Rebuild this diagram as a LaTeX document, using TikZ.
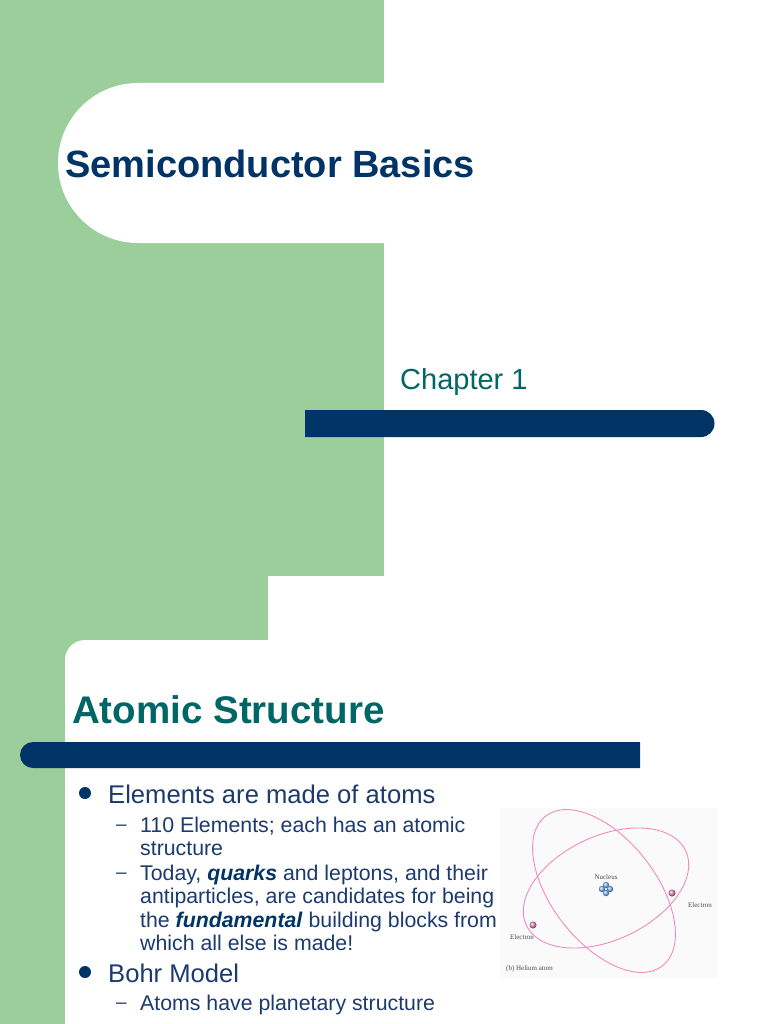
\documentclass[tikz,border=0pt]{standalone}
\usepackage{fontspec}
\setmainfont{Liberation Sans}
\newfontfamily\serifx{Liberation Serif}
\definecolor{gr}{HTML}{9CCE9C}
\definecolor{navy}{HTML}{003366}
\definecolor{teal2}{HTML}{006666}
\definecolor{txt}{HTML}{1C3A6E}
\definecolor{pinkx}{HTML}{F08CC0}
\tikzset{
 bodytext/.style={anchor=base west,inner sep=0,text=txt,font=\fontsize{21.3}{21.3}\selectfont},
 mainbul/.style={anchor=base west,inner sep=0,text=txt,font=\fontsize{25.6}{25.6}\selectfont},
 dot/.style={circle,fill=navy,inner sep=0,minimum size=12pt},
 dashx/.style={anchor=base west,inner sep=0,text=txt,font=\fontsize{19}{19}\selectfont},
 tiny/.style={inner sep=0,font=\serifx\fontsize{7}{7}\selectfont,text=black!70},
}
\begin{document}
\begin{tikzpicture}[x=1pt,y=-1pt]
\useasboundingbox (0,0) rectangle (768,1024);
\fill[white] (0,0) rectangle (768,1024);
% slide 1
\fill[gr] (0,0) rectangle (384,576);
\fill[gr] (0,576) rectangle (268,640);
\fill[white] (384,83) -- (138,83) arc[start angle=270,end angle=90,radius=80] -- (384,243) -- cycle;
\node[anchor=base west,inner sep=0,text=navy,font=\bfseries\fontsize{38}{38}\selectfont] (t1) at (65,178) {Semiconductor Basics};
\node[anchor=base west,inner sep=0,text=teal2,font=\fontsize{29}{29}\selectfont] (ch) at (400,389) {Chapter 1};
\fill[navy] (305,410) -- (701,410) arc[start angle=270,end angle=450,radius=13.5] -- (305,437) -- cycle;
% slide 2
\fill[gr] (0,640) rectangle (65,1024);
\fill[gr] (0,640) rectangle (90,665);
\fill[white] (65,1024) -- (65,660) arc[start angle=180,end angle=270,radius=20] -- (768,640) -- (768,1024) -- cycle;
\node[anchor=base west,inner sep=0,text=teal2,font=\bfseries\fontsize{38.5}{38.5}\selectfont] (t2) at (72,723) {Atomic Structure};
\fill[navy] (640,742) -- (33,742) arc[start angle=270,end angle=90,radius=13] -- (640,768) -- cycle;
\node[dot] (b1) at (85,793) {};
\node[mainbul] (l1) at (108,803) {Elements are made of atoms};
\node[dashx] (d1) at (116,830) {–};
\node[bodytext] (l2) at (140,832) {110 Elements; each has an atomic};
\node[bodytext] (l3) at (140,855) {structure};
\node[dashx] (d2) at (116,878) {–};
\node[bodytext] (l4) at (140,880) {Today, \textcolor{navy}{\textbf{\textit{quarks}}} and leptons, and their};
\node[bodytext] (l5) at (140,903) {antiparticles, are candidates for being};
\node[bodytext] (l6) at (140,927) {the \textcolor{navy}{\textbf{\textit{fundamental}}} building blocks from};
\node[bodytext] (l7) at (140,950) {which all else is made!};
\node[dot] (b2) at (85,972) {};
\node[mainbul] (l8) at (108,982) {Bohr Model};
\node[dashx] (d3) at (116,1008) {–};
\node[bodytext] (l9) at (140,1010) {Atoms have planetary structure};
% atom picture
\fill[black!2] (500,808) rectangle (718,978);
\draw[pinkx,line width=0.9pt,rotate around={-52:(604,891)}] (604,891) ellipse[x radius=95,y radius=52];
\draw[pinkx,line width=0.9pt,rotate around={25:(606,888)}] (606,888) ellipse[x radius=88,y radius=52];
\shade[ball color=pinkx] (672,893) circle (3.5);
\shade[ball color=pinkx] (533,925) circle (3.5);
\foreach \dx/\dy in {-4/0,4/0,0/-4,0/4}
 \shade[ball color=cyan!50!blue!50] (606+\dx,889+\dy) circle (3.2);
\node[tiny] (nu) at (606,877) {Nucleus};
\node[tiny] (e1) at (700,905) {Electron};
\node[tiny] (e2) at (522,937) {Electron};
\node[tiny,anchor=west] (cap) at (506,969) {(b) Helium atom};
\end{tikzpicture}
\end{document}
